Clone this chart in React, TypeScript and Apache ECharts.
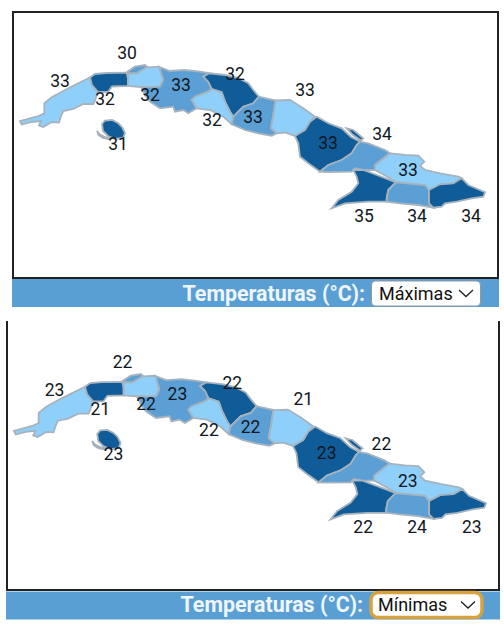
import React, { useEffect, useRef } from "react";
import * as echarts from "echarts";

const provinces = [
  "Pinar del Río", "Artemisa", "La Habana", "Mayabeque", "Matanzas", "Villa Clara", "Cienfuegos",
  "Sancti Spíritus", "Ciego de Ávila", "Camagüey", "Las Tunas", "Holguín", "Granma",
  "Santiago de Cuba", "Guantánamo", "Isla de la Juventud",
];
const shadeClass = [2, 0, 1, 2, 1, 0, 2, 1, 2, 0, 1, 2, 0, 1, 0, 0];
const shades = ["#105c98", "#5b9fd4", "#8fd0fa"];

const outlines: number[][][][] = [
  [[[20,121],[30,118.3],[38.3,116],[44.3,113.3],[44.3,103.3],[51.7,97.3],[65,90],[78.3,83.3],[90,77.5],[92,85],[98,92],[96.7,95],[95,100.7],[93.3,104],[83.3,104],[73.3,109],[63.3,111],[61,116],[59,122.5],[51.7,122],[43.3,127],[39,125.5],[41,121],[31.7,122],[21.7,124.5],[20,121]]],
  [[[90,77.5],[95,74],[106.7,73],[126.7,72.7],[128,79],[128,86],[112,86.5],[108,92],[98,92],[92,85],[90,77.5]]],
  [[[127.3,71.7],[135,66.7],[145,65],[148.3,68],[146.7,67.3],[136.7,73.3],[128.3,73.3],[127.3,71.7]]],
  [[[128.3,73.3],[136.7,73.3],[146.7,67.3],[159.3,66.7],[163.3,80],[160,86.7],[141,87],[128,86],[128,79],[128.3,73.3]]],
  [[[159.3,67],[170,71],[185,70],[200,71.7],[209.3,73.3],[203.3,76.7],[208.3,81.7],[211.7,89],[208.3,91.7],[195,96.7],[191.7,100],[196.7,108.3],[188.3,113.3],[183.3,110],[175,111.7],[173.3,106.7],[160,108.3],[150,101.7],[145,95],[141,87],[160,86.7],[163.3,80],[159.3,67]]],
  [[[203.3,76.7],[209.3,73.3],[225,75],[238.3,78],[248.3,83.3],[253.3,90],[259,96.7],[253.3,103.3],[243.3,106.7],[233.3,116.7],[230,111.7],[225,101.7],[221.7,92.3],[211.7,89],[208.3,81.7],[203.3,76.7]]],
  [[[191.7,100],[195,96.7],[208.3,91.7],[211.7,89],[221.7,92.3],[225,101.7],[230,111.7],[233.3,116.7],[231.7,124.3],[223.3,116.7],[210,110],[196.7,108.3],[191.7,100]]],
  [[[233.3,116.7],[243.3,106.7],[253.3,103.3],[259,96.7],[275.5,100.5],[273.3,115],[271,128.3],[276.7,133.3],[271.7,135.7],[258.3,133.3],[245,130],[231.7,124.3],[233.3,116.7]]],
  [[[275.5,100.5],[290,100],[303.3,108.3],[314.8,116.7],[310,121.7],[305,130],[295,136],[285,132.5],[276.7,133.3],[271,128.3],[273.3,115],[275.5,100.5]]],
  [[[295,136],[305,130],[310,121.7],[316.7,116.7],[328.3,123.3],[341.7,128.3],[351,137],[360,141.7],[356.7,145],[351.7,153.3],[341.7,160],[328.3,165],[320,171.7],[308.3,163.3],[300,156.7],[298.3,143.3],[295,136]],
    [[346.7,128.3],[353.3,130],[363.3,138.3],[361,140.5],[353,135],[346.7,128.3]]],
  [[[320,171.7],[328.3,165],[341.7,160],[351.7,153.3],[356.7,145],[360,141.7],[368.3,143.3],[385,150],[390,153.3],[375,165],[375,170],[363.3,170],[355,168.3],[351.7,171.7],[328.3,172],[320,171.7]]],
  [[[390,153.3],[405,155],[418.3,155.7],[424.3,161.7],[420,165.7],[425,170],[440,173.3],[458.3,176.7],[461.7,178.3],[453.3,183.3],[440,184.3],[429,190],[425,185],[406.7,183.3],[396,182.3],[390,178.3],[375,170],[375,165],[390,153.3]]],
  [[[353.3,170],[363.3,170],[376.7,175],[396,182.3],[388.3,190],[386.7,198.3],[386.7,201.7],[368.3,201.7],[345,203.3],[331.7,208.3],[338.3,200],[351.7,191.7],[358.3,183.3],[356.7,176.7],[353.3,170]]],
  [[[396,182.3],[406.7,183.3],[425,185],[429,190],[429,203.3],[433.3,207.7],[418.3,205],[400,203.3],[386.7,201.7],[386.7,198.3],[388.3,190],[396,182.3]]],
  [[[429,190],[440,184.3],[453.3,183.3],[461.7,178.3],[468.3,185],[485,192.3],[483.3,196.7],[471.7,198.3],[456.7,201.7],[445,203.3],[441.7,206.7],[433.3,207.7],[429,203.3],[429,190]]],
  [[[102,124],[105,120.5],[112,120],[118,123],[122,127],[125,133],[123,138],[115,139],[108,136],[103,131],[102,124]],
    [[97,131],[100,134.5],[105,137],[111,138.5],[110,139.5],[103,138],[98.5,135],[97,131]]],
];

const labelAnchors = [
  [60,81],[127,53],[105,99],[150,95],[181,85],[235,74],[253,117],[212,120],
  [305,90],[328,143],[382,134],[408,170],[364,216],[417,216],[471,216],[118,144],
];
const maxValues = [33, 30, 32, 32, 33, 32, 33, 32, 33, 33, 34, 33, 35, 34, 34, 31];
const minValues = [23, 22, 21, 22, 23, 22, 22, 22, 21, 23, 22, 23, 22, 24, 23, 23];

const barTitle = "Temperaturas (°C):";
const maxOption = "Máximas";
const minOption = "Mínimas";

const geoJson = {
  type: "FeatureCollection",
  features: provinces.map((name, i) => ({
    type: "Feature",
    properties: { name },
    geometry: { type: "MultiPolygon", coordinates: outlines[i].map((ring) => [ring]) },
  })),
};

function geoOf(left: number, top: number, width: number, height: number) {
  return {
    map: "cuba",
    left, top, width, height,
    roam: false,
    silent: true,
    boundingCoords: [[20, 65], [485, 209]],
    projection: { project: (p: number[]) => p, unproject: (p: number[]) => p },
    label: { show: false },
    itemStyle: { borderColor: "#a6b3be", borderWidth: 1.8, areaColor: "#8fd0fa" },
    emphasis: { disabled: true },
    regions: provinces.map((name, i) => ({ name, itemStyle: { areaColor: shades[shadeClass[i]] } })),
  };
}

function labelsOf(geoIndex: number, values: number[]) {
  return {
    type: "scatter",
    coordinateSystem: "geo",
    geoIndex,
    silent: true,
    symbolSize: 0,
    z: 5,
    itemStyle: { opacity: 1 },
    label: {
      show: true,
      position: "inside",
      formatter: (p: any) => String(p.value[2]),
      fontFamily: "Roboto",
      fontSize: 17.5,
      color: "#111722",
    },
    data: values.map((v, i) => [labelAnchors[i][0], labelAnchors[i][1], v]),
  };
}

function barGraphics(o: {
  x: number; y: number; w: number; h: number; textRight: number; cy: number;
  sel: number[]; optionText: string; optionX: number; chevron: number; focus: boolean;
}) {
  const [sx, sy, sw, sh] = o.sel;
  return [
    { type: "rect", shape: { x: o.x, y: o.y, width: o.w, height: o.h }, style: { fill: "#5a9fd4" }, z: 1 },
    {
      type: "text", x: o.textRight, y: o.cy, z: 3,
      style: { text: barTitle, fill: "#eef6fc", font: 'bold 21.4px Roboto', align: "right", verticalAlign: "middle" },
    },
    {
      type: "rect", z: 2,
      shape: { x: sx, y: sy, width: sw, height: sh, r: o.focus ? 7 : 4 },
      style: o.focus
        ? { fill: "#ffffff", stroke: "#d6a23f", lineWidth: 3.5 }
        : { fill: "#ffffff", stroke: "#8e99a3", lineWidth: 1 },
    },
    {
      type: "text", x: o.optionX, y: o.cy, z: 3,
      style: { text: o.optionText, fill: "#111111", font: '18px Roboto', align: "left", verticalAlign: "middle" },
    },
    {
      type: "polyline", z: 3,
      shape: { points: [[o.chevron, o.cy - 3], [o.chevron + 7, o.cy + 3.5], [o.chevron + 14, o.cy - 3]] },
      style: { stroke: "#222222", lineWidth: 1.3, fill: "none" },
    },
  ];
}

function frameLine(points: number[][]) {
  return {
    type: "polyline", z: 1,
    shape: { points },
    style: { stroke: "#222222", lineWidth: 2, fill: "none" },
  };
}

export default function App() {
  const ref = useRef<HTMLDivElement>(null);
  useEffect(() => {
    if (!ref.current) return;
    echarts.registerMap("cuba", geoJson as any);
    const chart = echarts.init(ref.current, undefined, { renderer: "svg" });
    chart.setOption({
      animation: false,
      backgroundColor: "#ffffff",
      geo: [geoOf(20, 65, 465, 144), geoOf(14, 374, 472, 146.2)],
      series: [labelsOf(0, maxValues), labelsOf(1, minValues)],
      graphic: [
        frameLine([[13, 279], [13, 12], [498, 12], [498, 279]]),
        frameLine([[12, 278], [499, 278]]),
        frameLine([[7, 591], [7, 321]]),
        frameLine([[499, 591], [499, 321]]),
        frameLine([[6, 590], [500, 590]]),
        ...barGraphics({
          x: 12, y: 279, w: 487, h: 28, textRight: 365, cy: 293,
          sel: [371.5, 281, 109, 25], optionText: maxOption, optionX: 379, chevron: 459, focus: false,
        }),
        ...barGraphics({
          x: 6, y: 591.5, w: 494, h: 28, textRight: 363, cy: 604.5,
          sel: [371, 592.5, 111, 25], optionText: minOption, optionX: 378, chevron: 461, focus: true,
        }),
      ],
    });
    return () => chart.dispose();
  }, []);
  return <div ref={ref} style={{ position: "absolute", left: 0, top: 0, width: 504, height: 630 }} />;
}
